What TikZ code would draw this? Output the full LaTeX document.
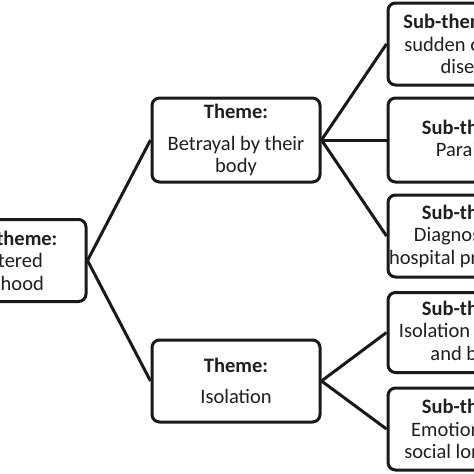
\documentclass[tikz,border=0pt]{standalone}
\usepackage{fontspec}
\setmainfont{Carlito}
\begin{document}
\begin{tikzpicture}[x=1pt,y=-1pt,
  box/.style={draw=black!90, line width=3pt, rounded corners=7.5pt, fill=white,
    minimum width=167pt, minimum height=82pt, inner sep=0pt, align=center,
    text=black!88, font=\fontsize{20.5}{22.5}\selectfont},
  link/.style={draw=black!90, line width=3pt}]
\useasboundingbox (0,0) rectangle (474,474);
\clip (0,0) rectangle (474,474);
\node[box] (L) at (2.5,260.5) {\textbf{Main theme:}\\Shattered\\childhood};
\node[box, minimum width=168pt, minimum height=84pt] (T1) at (236,140) {\textbf{Theme:}\\[9pt]Betrayal by their\\body};
\node[box, minimum width=168pt] (T2) at (236,381) {\textbf{Theme:}\\[8pt]Isolation};
\node[box] (S1) at (471.5,44) {\textbf{Sub-theme:} The\\sudden onset of\\disease};
\node[box, minimum height=84pt] (S2) at (471.5,140) {\textbf{Sub-theme:}\\Paralysis};
\node[box] (S3) at (471.5,236) {\textbf{Sub-theme:}\\Diagnosis and\\hospital procedures};
\node[box, minimum height=80pt] (S4) at (471.5,332.5) {\textbf{Sub-theme:}\\Isolation at home\\and being};
\node[box] (S5) at (471.5,429) {\textbf{Sub-theme:}\\Emotional and\\social loneliness};
\draw[link] (L.east) -- (T1.west);
\draw[link] (L.east) -- (T2.west);
\draw[link] (T1.east) -- (S1.west);
\draw[link] (T1.east) -- (S2.west);
\draw[link] (T1.east) -- (S3.west);
\draw[link] (T2.east) -- (S4.west);
\draw[link] (T2.east) -- (S5.west);
\end{tikzpicture}
\end{document}
